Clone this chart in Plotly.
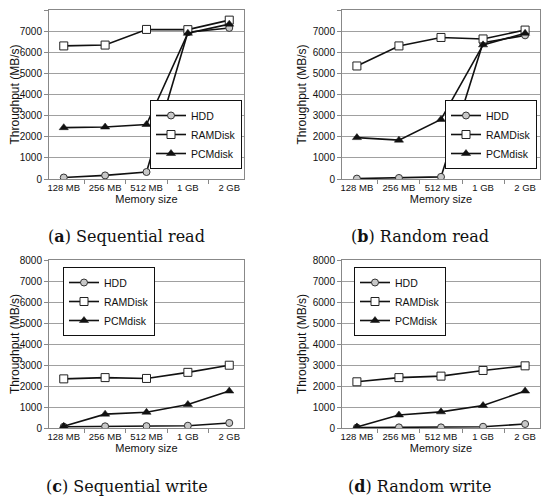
import plotly.graph_objects as go

categories = ["128 MB", "256 MB", "512 MB", "1 GB", "2 GB"]
series_names = ["HDD", "RAMDisk", "PCMdisk"]

seq_read_hdd = [70, 170, 330, 6950, 7150]
seq_read_ram = [6300, 6340, 7080, 7070, 7520]
seq_read_pcm = [2430, 2460, 2580, 6900, 7330]

rand_read_hdd = [20, 50, 100, 6450, 6800]
rand_read_ram = [5350, 6300, 6700, 6630, 7050]
rand_read_pcm = [1960, 1840, 2820, 6350, 6900]

seq_write_hdd = [60, 80, 90, 110, 240]
seq_write_ram = [2340, 2400, 2360, 2650, 2990]
seq_write_pcm = [80, 660, 750, 1120, 1760]

rand_write_hdd = [20, 30, 30, 60, 190]
rand_write_ram = [2200, 2400, 2470, 2740, 2960]
rand_write_pcm = [50, 620, 770, 1070, 1760]

captions = ["(<b>a</b>) Sequential read", "(<b>b</b>) Random read",
            "(<b>c</b>) Sequential write", "(<b>d</b>) Random write"]

# the page body adds an 8px margin, so the figure is placed at (8, 8) in the window
OFF = 8
W, H = 550 - OFF, 501 - OFF
panels = [
    dict(data=[seq_read_hdd, seq_read_ram, seq_read_pcm], px=(49, 244), py=(10, 179),
         leg=dict(x=242, y=169, xanchor="right", yanchor="bottom"), cap=(126, 236)),
    dict(data=[rand_read_hdd, rand_read_ram, rand_read_pcm], px=(342, 540), py=(10, 179),
         leg=dict(x=537, y=169, xanchor="right", yanchor="bottom"), cap=(420, 236)),
    dict(data=[seq_write_hdd, seq_write_ram, seq_write_pcm], px=(49, 244), py=(260, 428),
         leg=dict(x=63, y=267, xanchor="left", yanchor="top"), cap=(127, 486)),
    dict(data=[rand_write_hdd, rand_write_ram, rand_write_pcm], px=(342, 540), py=(260, 428),
         leg=dict(x=354, y=267, xanchor="left", yanchor="top"), cap=(420, 486)),
]


def fx(v):
    return (v - OFF) / W


def fy(v):
    return 1 - (v - OFF) / H


styles = [
    dict(symbol="circle", size=7, color="#c8c8c8", line=dict(color="#333333", width=1)),
    dict(symbol="square", size=8, color="#ffffff", line=dict(color="#222222", width=1)),
    dict(symbol="triangle-up", size=8, color="#111111", line=dict(color="#111111", width=0.5)),
]

font_family = "Liberation Sans, Arial, sans-serif"
fig = go.Figure()
layout = dict(width=W, height=H, margin=dict(l=0, r=0, t=0, b=0, autoexpand=False),
              paper_bgcolor="white", plot_bgcolor="white", annotations=[])

for i, p in enumerate(panels):
    n = "" if i == 0 else str(i + 1)
    legname = "legend" if i == 0 else f"legend{i + 1}"
    for s, (name, vals) in enumerate(zip(series_names, p["data"])):
        fig.add_trace(go.Scatter(
            x=categories, y=vals, name=name, mode="lines+markers",
            line=dict(color="#111111", width=1.6), marker=styles[s],
            xaxis=f"x{n}", yaxis=f"y{n}", legend=legname))
    layout[f"xaxis{n}"] = dict(
        domain=[fx(p["px"][0]), fx(p["px"][1])], anchor=f"y{n}", automargin=False,
        type="category", tickson="boundaries", ticks="outside", ticklen=4, tickangle=0,
        tickcolor="#888888", showline=True, linecolor="#888888", mirror=True,
        showgrid=False, tickfont=dict(family=font_family, size=9.5, color="#111111"),
        title=dict(text="Memory size", font=dict(family=font_family, size=11, color="#111111"),
                   standoff=1))
    layout[f"yaxis{n}"] = dict(
        domain=[fy(p["py"][1]), fy(p["py"][0])], anchor=f"x{n}", automargin=False,
        range=[0, 8000], dtick=1000, ticks="outside", ticklen=4, tickcolor="#888888",
        showline=True, linecolor="#888888", mirror=True, showgrid=True,
        gridcolor="#a0a0a0", gridwidth=1, zeroline=False,
        tickfont=dict(family=font_family, size=10, color="#111111"),
        title=dict(text="Throughput (MB/s)", font=dict(family=font_family, size=12, color="#111111"),
                   standoff=3))
    lg = p["leg"]
    layout[legname] = dict(
        x=fx(lg["x"]), y=fy(lg["y"]), xanchor=lg["xanchor"], yanchor=lg["yanchor"],
        xref="paper", yref="paper", bgcolor="white", bordercolor="#111111", borderwidth=1,
        font=dict(family=font_family, size=10.5, color="#111111"), itemwidth=30,
        tracegroupgap=0)
    layout["annotations"].append(dict(
        text=captions[i], x=fx(p["cap"][0]), y=fy(p["cap"][1]), xref="paper", yref="paper",
        xanchor="center", yanchor="middle", showarrow=False,
        font=dict(family="DejaVu Serif, serif", size=16, color="#111111")))

fig.update_layout(**layout)
fig.write_html("out.html")
